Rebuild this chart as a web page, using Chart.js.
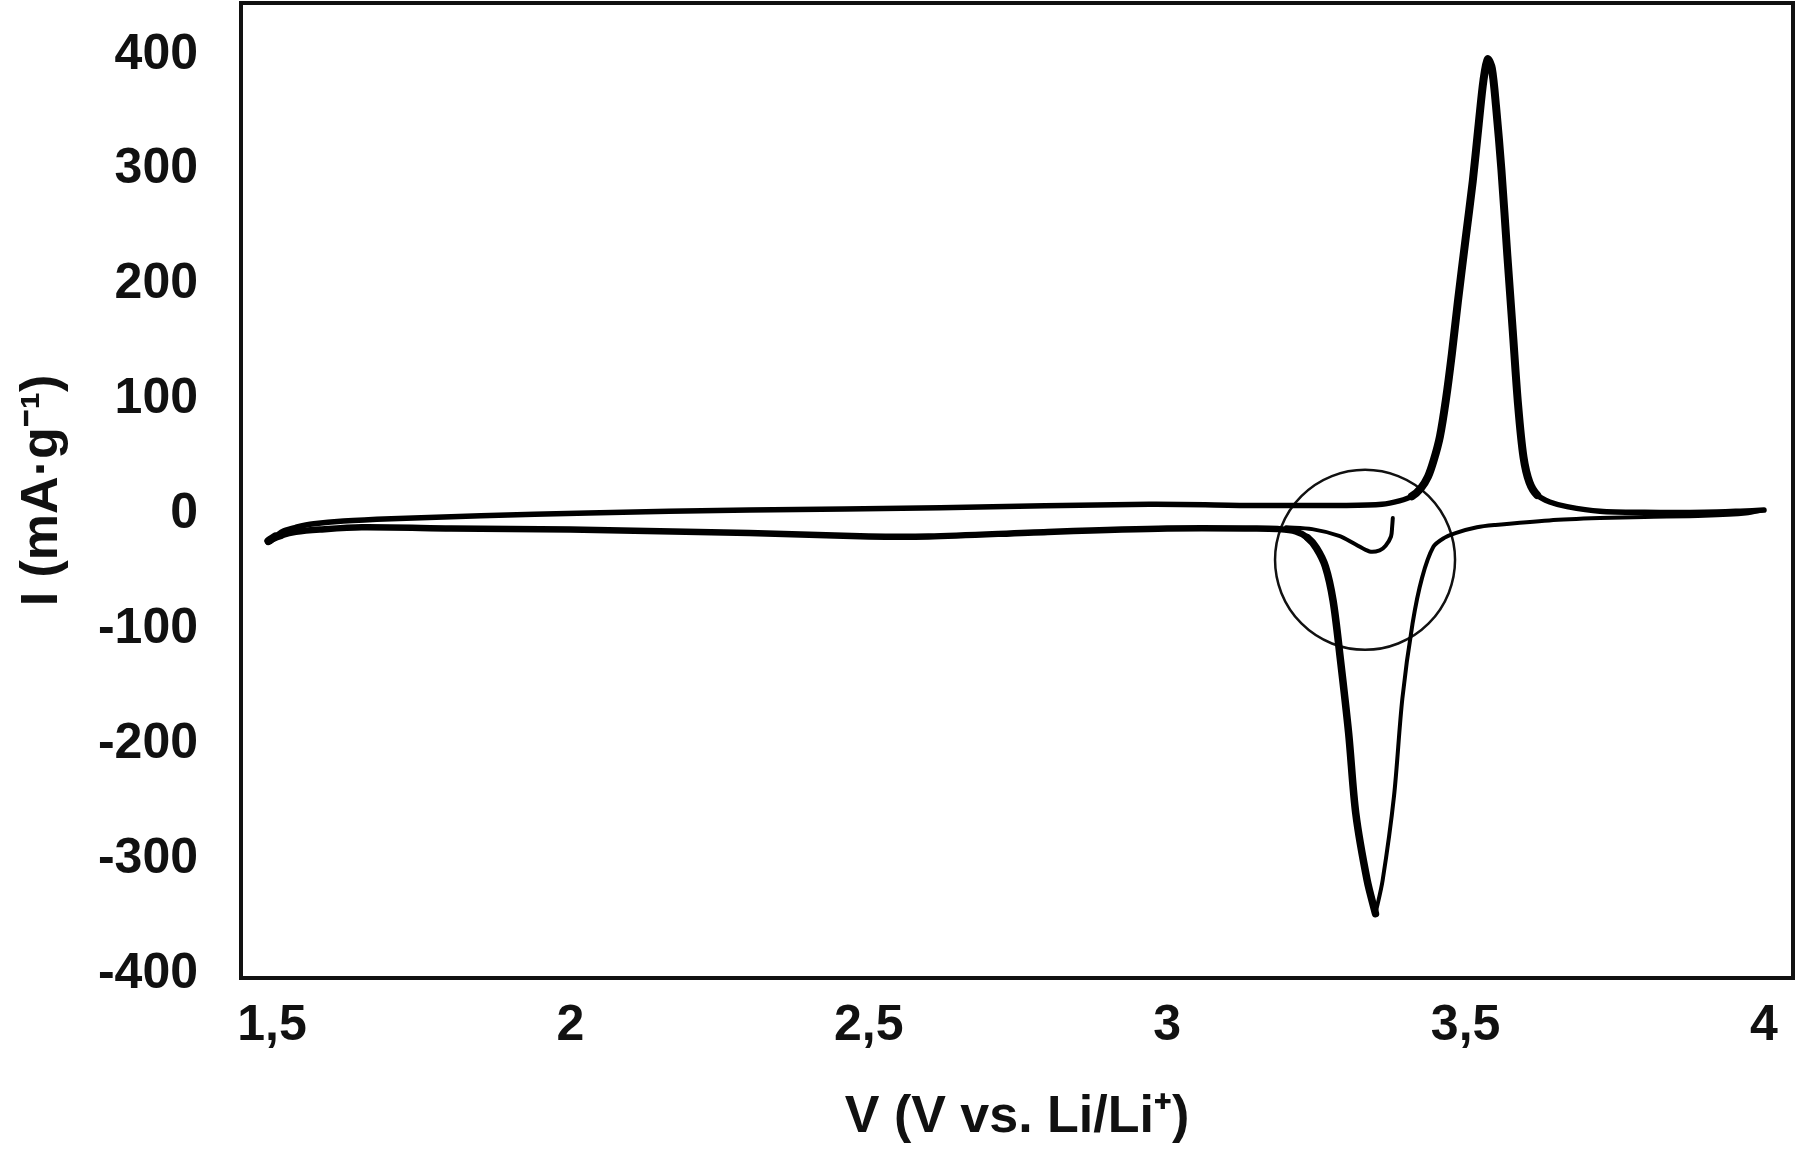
<!DOCTYPE html>
<html>
<head>
<meta charset="utf-8">
<script src="https://cdn.jsdelivr.net/npm/chart.js@4.4.1/dist/chart.umd.min.js"></script>
<style>
  html, body { margin: 0; padding: 0; background: #fff; }
  #wrap { width: 1800px; height: 1149px; position: relative; }
</style>
</head>
<body>
<div id="wrap"><canvas id="cv"></canvas></div>
<script>
// tick values
const xTicks = [1.5, 2, 2.5, 3, 3.5, 4];
const yTicks = [-400, -300, -200, -100, 0, 100, 200, 300, 400];

// anodic scan 1.5 -> 4 V (oxidation peak)
const anodicV = [1.494, 1.505, 1.52, 1.54, 1.57, 1.62, 1.70, 1.85, 2.03, 2.30, 2.62, 2.97, 3.15, 3.30, 3.36, 3.389, 3.41, 3.425, 3.437, 3.447, 3.457, 3.467, 3.477, 3.487, 3.50, 3.512, 3.522, 3.530, 3.537, 3.544, 3.551, 3.560, 3.570, 3.579, 3.588, 3.597, 3.607, 3.62, 3.641, 3.67, 3.725, 3.80, 3.90, 3.96, 4.00];
const anodicI = [-23, -19, -14, -11, -8, -5.5, -3.5, -1, 1.5, 4, 6, 9, 8, 8, 9, 12, 16, 23, 33, 48, 68, 100, 140, 185, 240, 290, 340, 378, 396, 388, 355, 300, 225, 160, 95, 50, 28, 17, 11, 7, 3, 2, 2, 3, 4];

// cathodic scan, 4 V down to the reduction peak (thin branch)
const cathHighV = [4.00, 3.97, 3.90, 3.80, 3.725, 3.64, 3.55, 3.519, 3.483, 3.465, 3.446, 3.427, 3.411, 3.394, 3.380, 3.361, 3.349];
const cathHighI = [4, 1, -1, -2, -3, -5, -9, -11, -16, -20, -28, -55, -95, -160, -245, -318, -347];

// cathodic scan, reduction peak down to 1.5 V (thick branch)
const cathLowV = [3.349, 3.335, 3.316, 3.304, 3.290, 3.278, 3.265, 3.25, 3.235, 3.215, 3.185, 3.15, 3.00, 2.80, 2.60, 2.50, 2.30, 2.00, 1.80, 1.65, 1.58, 1.54, 1.515, 1.50, 1.494];
const cathLowI = [-347, -318, -260, -190, -125, -75, -45, -29, -20, -14.5, -12.5, -12, -12, -15, -19, -19, -16, -13, -12, -11, -13, -15, -18, -21, -23];

// first scan starting from OCV (hook inside the circle)
const firstV = [3.378, 3.377, 3.375, 3.366, 3.356, 3.339, 3.316, 3.288, 3.243, 3.199];
const firstI = [-3, -10, -19, -27, -31, -32, -26, -18.5, -12.6, -11];

// highlighted region
const circleV = [3.3315];
const circleI = [-39.3];

const pts = (xs, ys) => xs.map((x, i) => ({ x: x, y: ys[i] }));
const fmt = v => String(v).replace('.', ',');

const FONT = "'Liberation Sans', Arial, sans-serif";

const curve = (xs, ys, w, wPeak) => ({
  data: pts(xs, ys),
  showLine: true,
  borderColor: '#000',
  borderWidth: w,
  pointRadius: 0,
  tension: 0.3,
  borderCapStyle: 'round',
  borderJoinStyle: 'round',
  segment: {
    // peaks are drawn heavier (overlapping cycles)
    borderWidth: ctx => (wPeak && Math.max(Math.abs(ctx.p0.parsed.y), Math.abs(ctx.p1.parsed.y)) > 20) ? wPeak : w
  }
});

// box around the plot
const frame = {
  id: 'frame',
  beforeDatasetsDraw(chart) {
    const a = chart.chartArea, ctx = chart.ctx;
    ctx.save();
    ctx.strokeStyle = '#111';
    ctx.lineWidth = 4;
    ctx.strokeRect(a.left, a.top, a.right - a.left, a.bottom - a.top);
    ctx.restore();
  }
};

const noPad = s => { s.paddingTop = 0; s.paddingBottom = 0; s.paddingLeft = 0; s.paddingRight = 0; };

new Chart(document.getElementById('cv'), {
  type: 'scatter',
  data: {
    datasets: [
      curve(anodicV, anodicI, 5.5, 8),
      curve(cathHighV, cathHighI, 4),
      curve(cathLowV, cathLowI, 6.5, 7.5),
      curve(firstV, firstI, 4),
      {
        data: pts(circleV, circleI),
        pointRadius: 90,
        pointStyle: 'circle',
        borderColor: '#111',
        borderWidth: 2.5,
        backgroundColor: 'rgba(0,0,0,0)',
        showLine: false
      }
    ]
  },
  options: {
    responsive: true,
    maintainAspectRatio: false,
    devicePixelRatio: 1,
    animation: false,
    layout: { autoPadding: false, padding: { top: 3, right: 7, left: 0, bottom: 0 } },
    plugins: { legend: { display: false }, tooltip: { enabled: false } },
    scales: {
      x: {
        type: 'linear',
        min: 1.448,
        max: 4.0486,
        grid: { display: false, drawTicks: false },
        border: { display: false },
        afterBuildTicks: s => { s.ticks = xTicks.map(v => ({ value: v })); },
        afterFit: s => { s.height = 171; noPad(s); },
        ticks: {
          padding: 18,
          color: '#111',
          font: { family: FONT, size: 50, weight: 'bold' },
          callback: v => fmt(v)
        },
        title: {
          display: true,
          text: 'V (V vs. Li/Li⁺)',
          color: '#111',
          font: { family: FONT, size: 52, weight: 'bold' },
          padding: { top: 0, bottom: 0 }
        }
      },
      y: {
        type: 'linear',
        min: -403,
        max: 445,
        grid: { display: false, drawTicks: false },
        border: { display: false },
        afterBuildTicks: s => { s.ticks = yTicks.map(v => ({ value: v })); },
        afterFit: s => { s.width = 241; noPad(s); },
        ticks: {
          padding: 43,
          color: '#111',
          font: { family: FONT, size: 50, weight: 'bold' },
          callback: v => fmt(v)
        },
        title: {
          display: true,
          text: 'I (mA·g⁻¹)',
          color: '#111',
          font: { family: FONT, size: 52, weight: 'bold' },
          padding: { top: 11, bottom: 0 }
        }
      }
    }
  },
  plugins: [frame]
});
</script>
</body>
</html>
